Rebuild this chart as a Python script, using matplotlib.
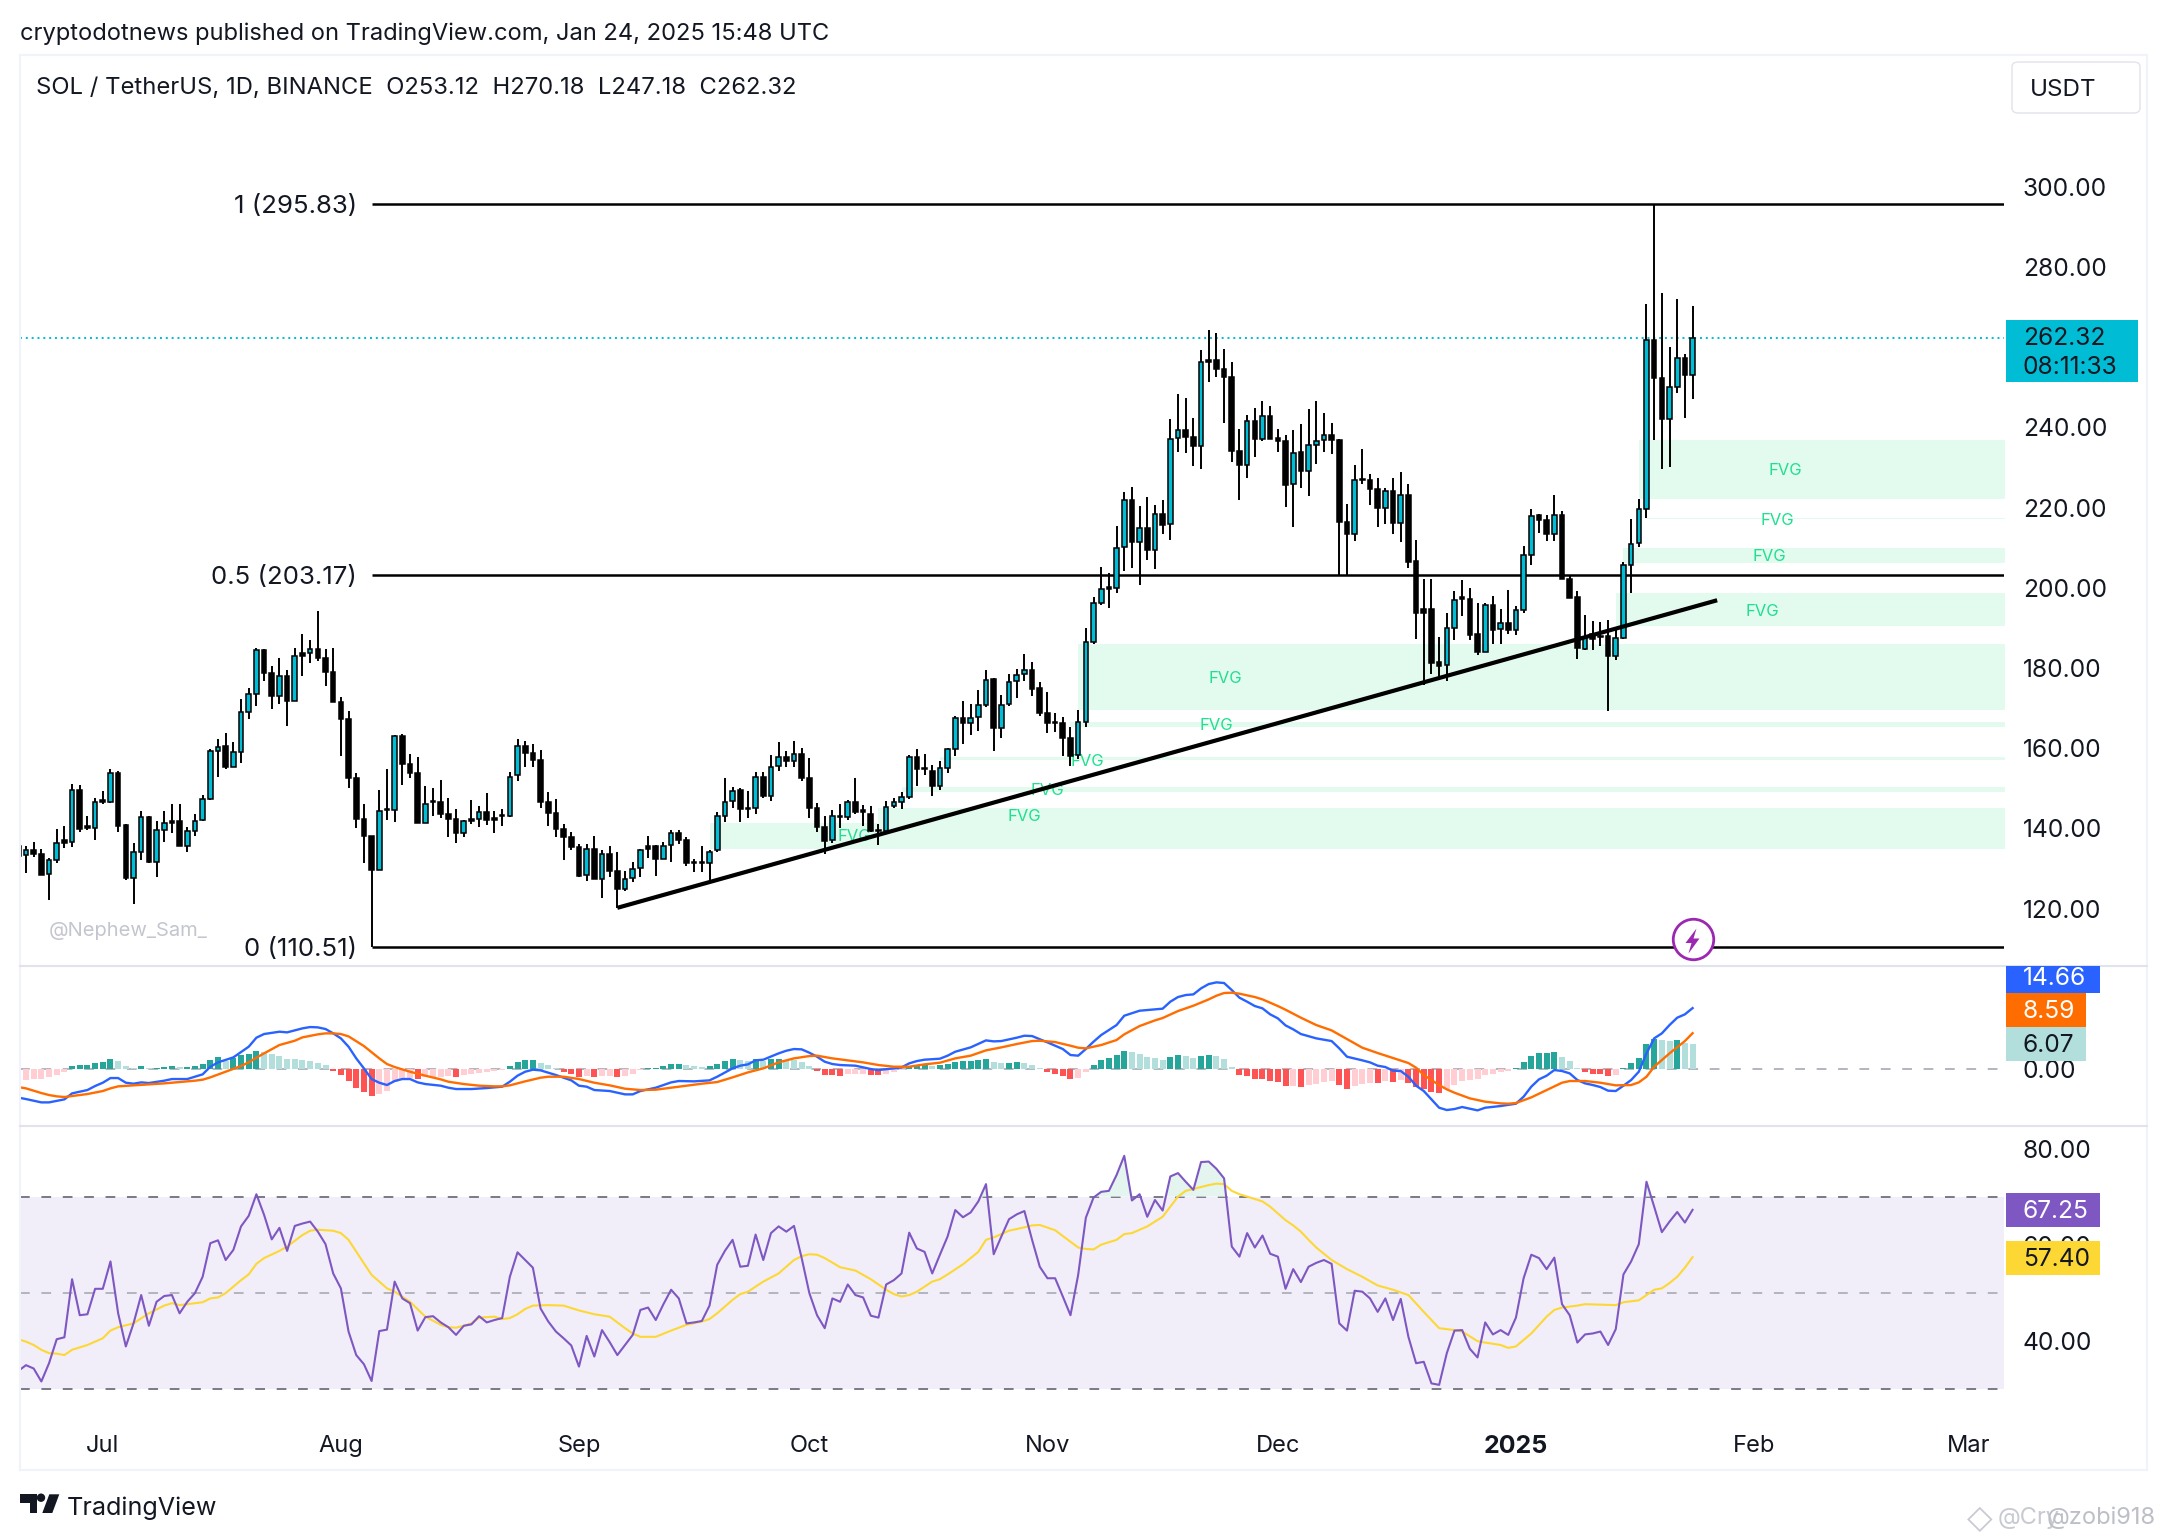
import numpy as np
import pandas as pd
import matplotlib
matplotlib.use("Agg")
import matplotlib.pyplot as plt
import matplotlib.dates as mdates
from matplotlib.patches import Rectangle, FancyBboxPatch, Polygon, Ellipse
from matplotlib.lines import Line2D

plt.rcParams['font.family'] = ['Inter', 'DejaVu Sans']

W, H = 2168, 1540
dark = '#131722'
label_size = 17.7

# daily candles, 21 Jun 2024 to 24 Jan 2025
open_ = [133.4,134.6,133.6,128.6,132.1,137.0,136.5,149.6,140.5,140.1,
    147.0,146.5,153.8,140.9,127.6,134.1,142.9,131.6,139.6,141.9,
    141.9,135.5,139.3,142.0,147.4,159.2,160.6,155.4,159.0,169.0,
    173.6,184.5,178.8,173.1,178.0,171.9,183.7,183.8,184.7,182.5,
    179.0,171.5,167.3,152.6,142.4,138.1,129.6,144.8,144.6,163.0,
    156.1,153.8,141.3,146.9,146.6,143.6,142.4,138.9,142.4,142.4,
    144.1,142.7,143.4,143.1,153.2,160.5,158.8,157.1,146.5,143.8,
    139.9,137.9,135.3,128.5,134.9,127.4,133.6,129.3,124.8,127.6,
    130.1,135.6,135.7,132.4,135.9,138.8,137.1,131.6,131.6,131.4,
    134.5,143.0,146.9,149.5,145.0,145.0,152.8,148.2,155.6,157.7,
    156.9,158.5,152.6,145.2,140.4,137.0,143.2,142.9,146.6,144.5,
    143.6,139.6,139.3,145.6,146.6,147.8,157.8,155.0,154.3,150.5,
    155.0,159.8,167.5,166.3,167.8,170.9,177.3,165.1,171.0,176.7,
    178.4,179.4,174.9,168.7,166.5,166.4,162.5,158.3,166.6,186.6,
    196.3,200.1,199.9,210.1,221.8,211.5,214.9,209.4,218.4,215.8,
    237.4,239.4,237.6,235.3,256.7,256.7,254.6,252.5,234.1,230.6,
    241.7,237.2,242.9,237.4,236.6,225.8,233.8,229.1,235.6,236.8,
    238.0,236.8,216.5,213.4,227.2,226.9,224.7,219.9,224.1,216.1,
    223.1,206.7,194.7,194.7,181.4,180.7,190.1,197.6,197.3,188.4,
    184.1,195.6,189.8,191.3,189.5,194.4,208.3,218.2,216.8,213.3,
    218.2,202.1,197.6,184.8,188.4,188.1,188.1,182.9,187.6,205.7,
    211.1,219.6,261.9,252.4,242.1,250.1,257.3,253.12]
high = [135.5,136.7,134.9,132.6,139.9,140.5,151.1,150.9,143.2,147.6,
    149.4,154.8,154.4,141.0,136.3,144.4,143.2,141.8,144.3,146.1,
    146.1,140.3,143.6,148.4,159.8,162.3,163.8,161.5,172.3,175.1,
    185.0,184.8,180.6,182.5,179.5,185.0,188.4,186.9,194.1,184.8,
    185.0,172.7,169.4,153.8,146.1,138.1,149.6,154.8,163.4,163.6,
    158.6,157.9,150.5,150.0,152.1,147.6,144.9,142.0,147.1,145.7,
    148.9,144.4,144.9,154.0,162.3,161.9,161.1,159.6,149.0,147.3,
    141.0,139.0,136.1,136.1,138.1,134.5,135.5,134.2,129.3,131.6,
    134.9,138.0,135.9,136.7,139.6,139.6,137.8,132.4,135.5,134.5,
    144.0,152.6,150.4,150.2,149.4,154.0,154.0,158.3,161.6,159.2,
    161.9,160.0,157.5,146.4,143.2,144.7,146.1,147.1,152.6,145.9,
    145.6,141.0,146.9,147.6,149.2,158.3,159.7,158.5,155.7,156.9,
    160.0,168.0,171.8,171.1,174.4,179.4,177.5,173.2,178.4,179.7,
    183.5,181.4,176.6,174.0,168.7,167.8,165.2,169.5,190.1,197.8,
    205.1,203.6,215.3,223.9,225.1,220.4,222.7,220.6,222.0,242.2,
    248.3,247.4,242.3,259.4,264.2,263.6,259.6,256.4,239.6,243.1,
    244.8,246.5,245.3,239.6,238.2,239.3,240.8,244.5,246.7,243.6,
    241.2,237.0,220.9,230.6,234.6,228.4,227.4,224.9,227.4,228.9,
    226.0,212.0,202.1,202.2,187.8,193.6,199.1,202.0,200.0,196.1,
    196.3,197.9,194.7,199.5,195.4,210.5,219.7,218.5,218.2,223.2,
    219.1,203.0,199.1,193.1,191.7,191.5,192.1,190.1,206.4,217.2,
    222.1,270.7,295.83,273.4,260.1,271.9,258.4,270.18]
low = [128.8,133.0,128.4,122.2,131.4,135.0,135.3,139.0,139.7,137.1,
    146.1,146.3,139.0,127.2,121.2,132.2,131.3,127.8,136.5,138.8,
    135.5,134.1,138.0,141.8,147.1,152.8,154.8,155.3,156.3,167.3,
    170.5,176.7,169.8,171.1,165.5,171.7,178.1,181.2,181.7,175.5,
    171.5,158.0,150.0,140.0,131.3,110.51,129.6,142.2,141.5,150.9,
    152.6,141.3,141.3,143.2,142.6,137.8,136.3,137.8,141.1,140.3,
    140.9,138.8,140.7,142.8,151.9,155.3,155.4,145.0,140.5,137.9,
    132.1,134.5,128.0,126.8,127.4,122.6,127.8,120.2,124.3,126.6,
    128.0,132.6,128.2,132.3,131.7,136.0,130.7,129.1,129.1,126.6,
    134.2,141.6,145.0,141.6,142.6,143.5,147.6,146.9,154.3,155.2,
    155.4,151.9,142.6,139.1,133.7,136.4,140.2,142.1,143.5,140.7,
    139.0,135.9,138.8,145.0,144.8,147.4,150.5,153.3,148.0,149.7,
    153.7,158.1,161.1,163.2,164.4,170.2,159.4,162.6,170.6,172.6,
    176.8,173.0,168.0,163.7,164.0,158.1,155.6,157.3,165.4,186.1,
    195.8,194.9,198.7,204.2,204.9,200.6,207.0,204.7,213.3,212.0,
    233.9,233.6,230.3,229.6,251.3,252.6,241.0,231.3,221.8,227.5,
    232.6,236.5,237.2,233.9,220.1,215.1,224.8,223.0,230.8,233.9,
    233.4,203.2,203.2,211.7,225.8,220.6,215.1,215.8,213.4,211.5,
    204.9,187.3,175.8,178.6,177.7,176.7,186.9,192.9,186.9,183.2,
    184.1,186.1,186.0,188.4,188.2,193.6,205.7,213.6,211.7,211.7,
    202.1,197.5,182.3,184.5,184.5,185.5,169.2,182.1,187.3,198.8,
    210.2,217.4,236.9,229.7,230.1,248.6,242.4,247.18]
close = [134.5,133.5,128.5,132.1,136.3,136.4,149.6,139.8,140.0,146.5,
    146.5,153.8,140.7,127.6,134.1,142.8,131.6,139.5,141.3,141.3,
    135.5,139.3,141.8,147.4,159.2,160.4,155.3,159.0,169.0,173.4,
    184.5,178.7,173.1,178.0,171.8,182.9,183.0,184.7,182.5,179.0,
    171.6,167.3,152.5,142.4,138.1,129.6,144.3,144.5,163.0,156.1,
    153.8,141.3,146.1,146.6,143.6,142.4,138.8,141.8,141.9,144.0,
    142.1,142.1,143.1,152.9,160.5,158.8,157.1,146.5,143.8,139.9,
    137.8,135.3,128.2,134.9,127.4,133.6,129.3,124.8,127.5,129.9,
    134.7,134.9,132.3,135.7,138.8,137.1,131.3,131.4,131.4,134.0,
    143.0,146.7,149.4,144.8,144.8,152.8,148.0,155.4,157.7,156.7,
    158.5,152.6,145.2,140.4,136.9,143.2,142.9,146.6,144.0,144.1,
    139.3,139.3,145.4,146.5,147.8,157.8,154.9,154.8,150.5,155.0,
    159.7,167.5,166.3,167.6,170.8,177.1,165.0,170.8,176.5,178.2,
    179.4,174.8,168.7,166.2,166.2,162.5,158.1,166.6,186.5,196.3,
    199.6,199.7,209.9,221.8,211.5,214.9,209.4,218.4,215.6,237.2,
    239.4,237.6,235.3,256.2,256.2,254.6,252.5,234.1,230.6,241.7,
    237.2,242.9,237.2,236.6,225.6,233.7,229.1,235.5,236.7,238.0,
    236.9,216.5,213.4,227.0,226.9,224.7,219.9,224.1,216.1,223.1,
    206.5,193.8,193.8,181.3,180.6,190.1,197.0,197.3,188.2,184.1,
    195.6,189.6,191.3,189.4,194.4,208.2,217.9,216.8,213.3,218.2,
    202.1,197.5,185.0,187.6,187.3,187.7,182.9,187.6,205.7,211.0,
    219.6,261.7,252.4,242.1,250.1,257.3,253.1,262.32]

# the day before the first full candle, only its edge shows at the left border
edge_low, edge_high = 133.2, 135.7
edge_hist, edge_macd, edge_signal, edge_rsi, edge_rsi_ma = -3.0, -7.0, -4.44, 33.7, 40.3

# macd histogram, one value per day
hist = [-2.74,-2.5,-2.45,-2.0,-1.53,-0.7,0.65,0.89,0.9,1.37,
    1.61,2.34,1.85,0.65,0.1,0.65,0.16,0.2,0.4,0.65,
    0.3,0.4,0.65,1.13,2.1,2.82,1.94,2.58,3.31,3.55,
    4.27,4.11,3.55,3.06,2.34,2.3,2.1,1.85,1.37,0.89,
    -0.56,-1.53,-2.98,-4.68,-5.65,-6.61,-6.13,-5.4,-3.15,-2.74,
    -2.34,-2.5,-2.1,-2.05,-1.9,-1.69,-2.02,-1.53,-1.29,-0.97,
    -0.73,-0.48,-0.32,0.65,1.61,2.1,2.15,1.37,0.89,0.08,
    -0.8,-1.21,-2.02,-1.77,-2.02,-1.77,-1.7,-2.02,-1.77,-1.21,
    -0.4,0.24,0.28,0.65,1.13,1.15,0.89,0.65,0.4,0.65,
    1.13,1.85,2.34,2.1,1.85,2.34,1.85,2.34,2.38,2.2,
    2.05,1.61,0.65,-0.48,-1.53,-1.6,-1.65,-1.29,-1.25,-1.2,
    -1.53,-1.6,-1.29,-0.73,-0.3,0.65,0.7,1.13,0.65,0.89,
    1.13,1.61,1.85,1.9,2.1,2.34,1.61,1.37,1.4,1.61,
    1.37,0.89,0.16,-0.8,-1.29,-1.77,-2.5,-2.26,-0.8,0.89,
    2.1,2.58,3.31,4.27,4.03,3.55,2.82,2.58,2.1,2.82,
    3.31,3.06,2.58,3.06,3.31,3.06,2.34,0.4,-1.53,-1.77,
    -2.5,-2.55,-2.98,-3.23,-4.19,-4.1,-4.44,-3.95,-3.71,-3.23,
    -2.98,-3.95,-4.92,-4.19,-3.71,-3.47,-3.5,-2.98,-3.23,-2.74,
    -3.47,-4.44,-4.92,-5.65,-5.89,-4.92,-3.95,-2.98,-2.74,-2.5,
    -1.53,-1.29,-0.8,-0.56,0.2,1.61,3.06,3.79,3.82,4.03,
    2.82,1.85,0.16,-0.8,-1.29,-1.32,-1.77,-1.53,0.16,1.37,
    2.58,5.97,7.18,6.94,6.69,6.94,6.21,6.07]

# macd and signal lines, read at the days in the idx lists
macd_idx = [0,2,3,5,6,8,9,10,11,12,13,14,15,16,18,19,21,23,24,25,27,29,30,31,33,34,36,37,38,39,
    40,41,42,43,44,45,46,47,48,49,50,51,52,54,55,56,58,60,62,63,64,65,66,67,69,71,72,73,74,76,
    78,79,80,82,84,85,87,89,90,92,93,94,95,96,98,99,100,101,102,103,104,105,106,108,110,111,113,114,115,116,
    117,119,120,121,123,125,126,127,129,130,131,133,135,136,137,138,139,140,142,143,145,146,148,149,150,151,152,153,154,155,
    156,157,158,159,160,161,162,163,164,165,166,168,170,171,172,174,175,176,177,178,179,180,181,182,183,184,185,186,187,189,
    190,192,194,195,196,197,198,199,200,201,202,203,204,205,206,207,208,209,210,211,212,213,214,215,216,217]
macd = [-7.34,-8.15,-8.15,-7.42,-5.97,-5.16,-4.19,-3.39,-2.26,-2.26,-3.39,-3.63,-3.31,-3.47,-2.9,-2.5,-2.5,-1.37,0.48,1.53,2.74,5.32,7.5,8.39,8.95,8.79,9.76,10.08,10.0,9.6,
    8.55,7.34,5.32,2.5,0.08,-2.5,-3.39,-3.95,-2.98,-2.5,-2.5,-3.31,-3.71,-4.11,-4.6,-4.92,-4.92,-4.68,-4.35,-3.15,-1.69,-0.73,-0.24,-0.4,-1.53,-2.82,-4.11,-4.35,-5.16,-5.4,
    -6.21,-6.21,-5.4,-4.6,-3.31,-2.98,-3.06,-2.82,-1.94,0.08,0.73,1.05,2.02,2.18,3.71,4.35,4.76,4.68,3.87,2.9,1.69,1.13,0.89,0.73,-0.08,-0.32,0.08,0.32,1.29,1.85,
    2.18,2.42,3.15,4.11,5.16,6.85,6.61,6.69,7.5,7.98,7.9,6.37,4.76,3.31,3.15,4.76,6.53,8.15,10.56,12.82,14.03,14.19,14.52,16.21,17.34,17.82,17.98,19.44,20.48,20.89,
    20.73,19.03,17.18,16.21,15.16,14.6,13.15,12.18,10.48,9.52,8.39,7.34,6.69,4.92,2.9,2.02,1.53,0.73,0.4,-0.48,-0.56,-1.94,-4.11,-5.4,-7.42,-9.44,-10.0,-9.76,-9.27,-10.08,
    -9.44,-9.03,-8.47,-6.77,-4.35,-2.58,-1.69,-0.32,-0.56,-1.13,-2.74,-3.55,-3.95,-4.44,-5.32,-5.4,-4.11,-2.74,-0.73,3.71,7.34,8.55,10.56,12.34,13.15,14.66]
signal_idx = [0,1,2,3,4,5,6,8,10,11,12,14,16,18,20,22,23,24,26,28,29,30,31,33,35,36,38,39,40,41,
    42,44,46,47,48,50,52,54,55,57,59,61,62,63,65,67,68,70,72,74,76,78,80,82,84,86,88,90,92,94,
    96,98,100,102,103,105,107,109,111,113,115,117,119,121,123,125,127,129,131,132,134,136,137,138,140,142,143,145,147,148,
    150,152,154,155,156,157,158,160,161,162,163,164,166,168,170,172,174,176,178,180,181,182,183,184,185,186,188,190,192,193,
    194,196,198,200,201,203,205,207,209,210,211,212,214,216,217]
signal = [-4.76,-5.32,-5.89,-6.37,-6.69,-6.85,-6.61,-6.13,-5.4,-4.76,-4.27,-4.03,-3.79,-3.55,-3.23,-2.9,-2.66,-2.1,-0.73,0.65,1.53,2.66,3.71,5.73,6.77,7.58,8.31,8.55,8.55,8.39,
    7.82,5.48,2.5,1.13,0.4,-0.73,-1.69,-2.58,-3.15,-3.71,-4.11,-4.27,-4.27,-4.03,-3.06,-2.18,-1.94,-1.94,-2.5,-3.39,-4.03,-4.84,-5.16,-5.08,-4.6,-4.11,-3.63,-3.23,-2.1,-0.89,
    0.08,1.53,2.5,3.06,3.15,2.5,2.02,1.53,0.89,0.48,0.48,1.05,1.45,2.5,3.15,4.44,5.16,5.97,6.69,6.77,6.45,5.56,5.08,4.92,5.73,6.94,8.31,10.32,11.69,12.26,
    13.95,15.24,16.77,17.66,18.31,18.39,18.15,17.34,16.77,15.97,15.16,14.27,12.34,10.56,9.27,7.18,5.08,3.79,2.58,1.37,0.24,-1.53,-2.74,-3.95,-5.0,-5.81,-7.18,-7.98,-8.39,-8.47,
    -8.31,-6.94,-5.16,-3.39,-2.98,-2.98,-3.39,-4.03,-3.95,-3.31,-1.94,0.48,3.71,6.69,8.59]

# rsi, one value per day
rsi = [34.9,34.2,31.5,35.3,40.3,40.7,52.8,45.3,45.5,50.8,
    50.8,56.5,45.7,38.8,43.6,49.5,43.1,48.1,49.3,49.5,
    45.7,48.1,49.9,53.3,60.3,60.9,56.8,58.9,63.8,66.0,
    70.5,66.2,61.1,63.5,58.7,63.9,64.4,64.8,62.7,60.1,
    54.0,50.9,41.9,37.0,35.1,31.6,42.0,42.3,52.3,48.8,
    47.8,42.1,44.9,45.1,43.8,42.8,41.2,43.1,43.4,45.1,
    43.8,44.3,44.7,53.3,58.4,56.8,55.2,46.7,44.0,41.9,
    40.5,39.0,34.6,41.0,36.7,42.2,39.7,37.0,39.1,41.2,
    46.4,46.9,44.3,47.6,50.6,48.8,43.6,43.8,44.1,47.3,
    55.8,58.7,61.0,55.4,55.6,62.1,56.8,62.4,63.8,62.7,
    63.9,57.2,49.9,45.3,42.6,48.8,48.1,51.7,49.5,49.0,
    45.2,44.8,51.7,52.6,54.0,62.5,59.2,58.5,54.0,57.9,
    61.7,67.2,65.7,66.7,69.0,72.6,58.0,61.7,65.3,66.3,
    67.0,61.0,55.4,53.0,53.0,49.2,45.3,53.7,65.6,69.8,
    71.0,71.2,74.5,78.5,69.2,70.5,65.8,69.3,67.1,74.2,
    74.9,73.1,71.4,77.2,77.3,75.8,73.8,59.6,57.5,62.4,
    59.4,61.9,58.1,57.5,50.8,54.9,52.2,55.4,56.2,56.8,
    56.0,43.6,42.1,50.4,50.2,48.8,46.0,48.8,44.3,48.7,
    40.8,35.3,35.6,31.1,30.8,37.4,42.1,42.2,38.3,36.5,
    43.8,41.3,42.2,41.2,44.8,53.0,57.9,57.2,54.9,57.3,
    47.6,45.3,39.6,41.3,41.5,41.9,39.1,42.4,53.8,56.5,
    60.1,73.1,67.9,62.6,64.8,66.8,64.6,67.25]
rsi_ma_idx = [0,1,2,3,4,5,6,8,10,11,12,14,16,18,19,20,22,23,24,25,26,28,29,30,31,33,34,36,37,38,
    40,41,42,44,45,47,48,50,52,54,55,56,57,58,59,61,62,63,64,65,66,68,70,72,74,76,78,79,80,82,
    84,86,88,89,90,92,93,94,96,98,100,101,102,103,104,106,108,110,112,113,114,115,116,118,119,120,122,124,125,126,
    128,130,131,132,134,136,137,138,139,140,142,143,144,146,148,149,150,151,152,154,155,156,157,158,160,161,162,163,164,165,
    166,167,168,170,172,174,176,178,180,182,184,186,187,189,190,192,193,194,196,198,199,200,202,203,205,207,208,210,211,212,
    213,214,215,216,217]
rsi_ma = [39.8,39.1,38.1,37.4,37.3,37.0,38.1,39.1,40.5,42.1,42.8,43.6,45.7,47.3,47.8,47.4,47.8,48.0,48.8,49.0,49.9,52.6,53.8,56.0,57.2,58.7,59.6,62.0,62.9,63.1,
    62.9,62.4,61.0,56.1,53.7,50.9,50.2,48.1,45.0,43.3,42.8,42.7,43.1,43.6,44.8,45.0,44.5,44.7,45.5,46.6,47.3,47.4,47.3,46.3,45.5,45.0,42.6,41.5,40.8,40.8,
    42.1,43.3,44.0,44.5,45.7,48.5,49.7,50.2,52.3,54.0,56.8,57.6,58.0,57.9,57.2,55.3,54.6,52.8,50.6,49.7,49.2,49.5,50.2,52.3,52.8,53.8,55.9,58.5,61.0,61.5,
    62.9,63.6,64.0,64.1,63.0,60.6,59.4,59.1,59.0,60.0,61.0,62.2,62.4,63.8,65.8,67.9,70.0,71.2,71.6,72.4,72.7,72.6,71.2,70.5,69.5,69.0,67.9,66.5,65.1,64.0,
    62.7,61.0,59.4,56.8,54.9,53.3,51.5,50.6,49.5,46.0,42.6,42.2,41.9,39.9,39.6,39.1,38.5,38.8,41.5,45.0,46.4,46.9,47.3,47.6,47.5,47.4,48.0,48.4,49.5,50.6,
    50.9,52.0,53.3,55.2,57.4]

# fvg zones: first day, top and bottom price
fvg_start = [210,211,208,207,137,136,119,114,111,89]
fvg_top = [236.8,217.4,209.9,198.6,186.1,166.6,157.9,150.4,145.0,141.4]
fvg_bot = [222.2,217.2,206.2,190.4,169.5,165.4,157.0,149.2,134.8,134.8]
fvg_label_day = [229.1,228.0,227.0,226.1,156.1,155.0,138.2,133.0,130.0,107.9]
fvg_label_price = [229.2,216.9,207.8,194.2,177.3,165.6,156.8,149.4,142.9,138.1]

fib_levels = [295.83,203.17,110.51]
fib_labels = ['1 (295.83)','0.5 (203.17)','0 (110.51)']
fib_day = 45
trend_days = [77,220.2]
trend_prices = [120.2,196.9]

price_ticks = [120,140,160,180,200,220,240,280,300]
rsi_ticks = [40,60,80]
month_dates = ['2024-07-01','2024-08-01','2024-09-01','2024-10-01','2024-11-01','2024-12-01','2025-01-01','2025-02-01','2025-03-01']
month_labels = ['Jul','Aug','Sep','Oct','Nov','Dec','2025','Feb','Mar']

dates = pd.date_range('2024-06-21', periods=len(open_))
x = mdates.date2num(dates)
open_, high, low, close = map(np.array, (open_, high, low, close))
hist, rsi = np.array(hist), np.array(rsi)
x_edge = x[0] - 1


def axes_px(x0, y0, x1, y1):
    ax = fig.add_axes([x0 / W, 1 - y1 / H, (x1 - x0) / W, (y1 - y0) / H])
    ax.set_facecolor('none')
    for s in ax.spines.values():
        s.set_visible(False)
    ax.set_xlim(x[0] - 0.78, x[0] + 257.55)
    ax.set_xticks([])
    ax.yaxis.tick_right()
    ax.tick_params(axis='y', length=0, pad=13.5, labelsize=label_size, labelcolor=dark)
    return ax


def px_text(px, py, s, **kw):
    kw.setdefault('color', dark)
    kw.setdefault('va', 'center')
    return fig.text(px / W, 1 - py / H, s, **kw)


def px_rect(x0, y0, x1, y1, color, **kw):
    fig.add_artist(Rectangle((x0 / W, 1 - y1 / H), (x1 - x0) / W, (y1 - y0) / H, transform=fig.transFigure,
                             facecolor=color, edgecolor='none', **kw))


def px_line(x0, y0, x1, y1, color, lw):
    fig.add_artist(Line2D([x0 / W, x1 / W], [1 - y0 / H, 1 - y1 / H], transform=fig.transFigure, color=color, lw=lw))


def px_poly(points, color, **kw):
    pts = [(a / W, 1 - b / H) for a, b in points]
    fig.add_artist(Polygon(pts, transform=fig.transFigure, facecolor=color, edgecolor='none', **kw))


def tag(y0, y1, right, s, bg, fg, text_y=None):
    px_rect(2006, y0, right, y1, bg, zorder=4)
    if text_y is None:
        text_y = (y0 + y1) / 2 + 1.5
    px_text(2023, text_y, s, color=fg, fontsize=label_size, zorder=5)


fig = plt.figure(figsize=(W / 100, H / 100), dpi=100, facecolor='white')

# main pane
ax = axes_px(20, 55, 2004, 965.7)
ax.set_ylim(105.77, 332.87)
ax.set_yticks(price_ticks)
ax.set_yticklabels(['%.2f' % t for t in price_ticks])

for i in range(len(fvg_start)):
    ax.fill_between([x[0] + fvg_start[i], x[0] + 300], fvg_bot[i], fvg_top[i], color='#E3FAEF', lw=0, zorder=1)
    ax.text(x[0] + fvg_label_day[i], fvg_label_price[i], 'FVG', color='#1FE08F', fontsize=12,
            ha='center', va='center', zorder=2)

ax.axhline(close[-1], color='#00BCD4', lw=1.4, ls=(0, (1, 2)), zorder=2)
for lev, lab in zip(fib_levels, fib_labels):
    ax.plot([x[fib_day], x[0] + 300], [lev, lev], color='black', lw=1.8, zorder=3, solid_capstyle='butt')
    ax.text(x[fib_day] - 1.9, lev, lab, color=dark, fontsize=18.6, ha='right', va='center_baseline')

up = close >= open_
ax.vlines(x, low, high, color='black', lw=1.4, zorder=4)
ax.bar(x[up], (close - open_)[up], bottom=open_[up], width=0.6, color='#00BCD4', edgecolor='black', lw=1.1, zorder=5)
ax.bar(x[~up], (open_ - close)[~up], bottom=close[~up], width=0.6, color='black', edgecolor='black', lw=1.1, zorder=5)
ax.bar(x_edge, edge_high - edge_low, bottom=edge_low, width=0.6, color='black', edgecolor='black', lw=1.1, zorder=5)

ax.plot([x[0] + d for d in trend_days], trend_prices, color='black', lw=3, zorder=6, solid_capstyle='butt')
ax.text(x[0] + 2.9, 114.5, '@Nephew_Sam_', color='#C3C6CE', fontsize=14.5, va='center')

ax.scatter([x[-1]], [112.4], s=850, facecolor='white', edgecolor='#9C27B0', lw=2, zorder=7)

# macd pane
ax2 = axes_px(20, 965.7, 2004, 1125.7)
ax2.set_ylim(-13.79, 24.92)
ax2.set_yticks([0])
ax2.set_yticklabels(['0.00'])
ax2.axhline(0, color='#B2B5BE', lw=1.4, ls=(0, (5, 6)), zorder=1)
colors = []
for i in range(len(hist)):
    prev = hist[i - 1] if i > 0 else edge_hist
    if hist[i] >= 0:
        colors.append('#26A69A' if hist[i] > prev else '#B2DFDB')
    else:
        colors.append('#FFCDD2' if hist[i] > prev else '#FF5252')
ax2.bar(x, hist, width=0.78, color=colors, lw=0, zorder=2)
ax2.bar(x_edge, edge_hist, width=0.78, color='#FFCDD2', lw=0, zorder=2)
ax2.plot(np.r_[x_edge, x[macd_idx]], np.r_[edge_macd, macd], color='#2962FF', lw=1.7, zorder=3)
ax2.plot(np.r_[x_edge, x[signal_idx]], np.r_[edge_signal, signal], color='#FF6D00', lw=1.7, zorder=4)

# rsi pane
ax3 = axes_px(20, 1125.7, 2004, 1415)
ax3.set_ylim(24.52, 84.77)
ax3.set_yticks(rsi_ticks)
ax3.set_yticklabels(['%.2f' % t for t in rsi_ticks])
ax3.axhspan(30, 70, color='#F1EEF9', lw=0, zorder=0)
ax3.axhline(70, color='#787B86', lw=1.4, ls=(0, (5, 6)), zorder=1)
ax3.axhline(50, color='#B2B5BE', lw=1.4, ls=(0, (5, 6)), zorder=1)
ax3.axhline(30, color='#787B86', lw=1.4, ls=(0, (5, 6)), zorder=1)
ax3.fill_between(x, 70, rsi, where=rsi > 70, interpolate=True, color='#E4F4EE', lw=0, zorder=1)
ax3.plot(np.r_[x_edge, x], np.r_[edge_rsi, rsi], color='#7E57C2', lw=1.5, zorder=3)
ax3.plot(np.r_[x_edge, x[rsi_ma_idx]], np.r_[edge_rsi_ma, rsi_ma], color='#FDD835', lw=1.5, zorder=2)
ax3.set_xticks(mdates.date2num(pd.to_datetime(month_dates)))
ax3.set_xticklabels(month_labels)
ax3.tick_params(axis='x', length=0, pad=14.5, labelsize=17, labelcolor=dark)
for lab in ax3.get_xticklabels():
    if lab.get_text() == '2025':
        lab.set_fontweight('bold')
        lab.set_fontsize(18)

# frame and separators
line_col = '#E0E3EB'
px_line(20, 55, 2147, 55, '#F0F3FA', 1.5)
px_line(20, 1470, 2147, 1470, '#F0F3FA', 1.5)
px_line(20, 55, 20, 1470, '#F0F3FA', 1.5)
px_line(2147, 55, 2147, 1470, '#F0F3FA', 1.5)
px_line(20, 965.7, 2147, 965.7, line_col, 1.5)
px_line(20, 1125.7, 2147, 1125.7, line_col, 1.5)

# header text
px_text(20, 34, 'cryptodotnews published on TradingView.com, Jan 24, 2025 15:48 UTC', fontsize=17.05)
px_text(36, 87.5, 'SOL / TetherUS, 1D, BINANCE  O253.12  H270.18  L247.18  C262.32', fontsize=17.15)
fig.add_artist(FancyBboxPatch((2012 / W, 1 - 113 / H), 128 / W, 51 / H, boxstyle='round,pad=0,rounding_size=0.003',
                              transform=fig.transFigure, facecolor='white', edgecolor=line_col, lw=1))
px_text(2030, 90, 'USDT', fontsize=17.4)

# price tags
px_rect(2006, 320, 2138, 382, '#00BCD4', zorder=4)
px_text(2023, 338.5, '262.32', fontsize=label_size, zorder=5)
px_text(2023, 367, '08:11:33', fontsize=label_size, zorder=5)
tag(966, 993, 2100, '14.66', '#2962FF', 'white', text_y=978)
tag(993, 1027, 2086, '8.59', '#FF6D00', 'white')
tag(1027, 1061, 2086, '6.07', '#B2DFDB', dark)
tag(1193, 1227, 2100, '67.25', '#7E57C2', 'white')
tag(1241, 1275, 2100, '57.40', '#FDD835', dark)

# lightning mark
px_poly([(1696.5, 928.5), (1685.5, 943), (1691.5, 943), (1688.5, 953.5), (1699.5, 938.5), (1693.5, 938.5)], '#9C27B0', zorder=6)

# footer logo and names
px_rect(20, 1494.3, 36.7, 1503, dark)
px_rect(30, 1494.3, 36.7, 1513, dark)
fig.add_artist(Ellipse((41 / W, 1 - 1497.7 / H), 8.4 / W, 8.4 / H, transform=fig.transFigure, facecolor=dark, edgecolor='none'))
px_poly([(49.3, 1494.3), (59.3, 1494.3), (52.3, 1513), (42.3, 1513)], dark)
px_text(66.5, 1508.5, 'TradingView', fontsize=18.1)
px_text(1998, 1518, '@Cry', fontsize=17, color='#C8CAD1')
px_text(2047, 1518, '@zobi918', fontsize=17, color='#BDBFC7')
px_text(1980, 1518, '\u25c7', fontsize=24, color='#C8CAD1', ha='center', family='DejaVu Sans')

fig.savefig('out.png', dpi=100)
